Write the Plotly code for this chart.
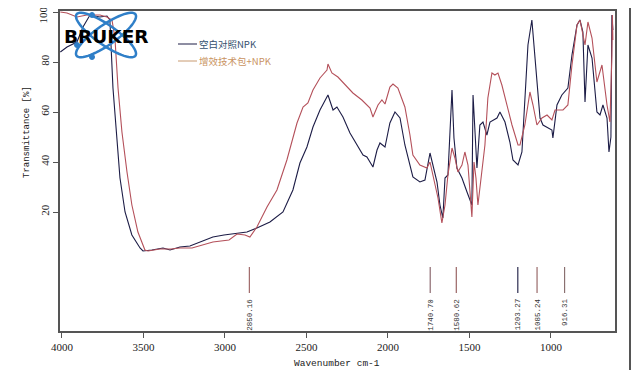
import math
import plotly.graph_objects as go

# ---- data ----
blank_wn = [4010, 3969, 3908, 3871, 3828, 3767, 3724, 3706, 3687, 3663, 3644, 3613, 3571, 3521, 3503,
            3448, 3380, 3337, 3276, 3215, 3153, 3074, 3006, 2865, 2804, 2724, 2644, 2583, 2540, 2497,
            2460, 2417, 2368, 2337, 2313, 2276, 2233, 2190, 2153, 2129, 2092, 2067, 2049, 2018, 1988,
            1957, 1926, 1896, 1865, 1847, 1804, 1773, 1742, 1724, 1699, 1681, 1663, 1650, 1632, 1607,
            1595, 1577, 1546, 1515, 1485, 1478, 1466, 1454, 1436, 1417, 1393, 1374, 1331, 1313, 1282,
            1252, 1233, 1202, 1178, 1160, 1141, 1117, 1098, 1067, 1049, 1024, 994, 988, 963, 933,
            896, 871, 840, 822, 804, 791, 773, 748, 718, 699, 681, 656, 644, 632, 626, 620]
blank_t = [84.0, 86.0, 88.0, 94.0, 98.8, 98.0, 98.4, 96.8, 69.6, 49.6, 33.6, 20.0, 10.8, 5.6, 4.4,
           4.8, 5.6, 4.8, 6.0, 6.4, 8.0, 10.0, 10.8, 12.0, 13.6, 16.0, 20.0, 28.8, 39.6, 46.0,
           54.0, 60.8, 66.8, 60.8, 62.0, 58.0, 51.6, 46.8, 42.8, 42.0, 38.0, 44.8, 47.6, 46.0, 55.6,
           60.0, 57.6, 46.8, 38.8, 34.0, 32.0, 32.8, 43.6, 38.8, 32.0, 22.8, 17.6, 33.6, 34.8, 68.8,
           49.6, 37.6, 33.6, 28.0, 22.8, 66.8, 49.6, 37.6, 54.8, 56.0, 50.8, 56.0, 57.6, 60.0, 56.0,
           48.0, 40.8, 38.8, 44.0, 65.6, 86.8, 96.8, 82.8, 57.6, 54.8, 54.0, 52.8, 49.6, 62.8, 66.8,
           69.6, 82.8, 94.8, 96.8, 92.0, 64.0, 86.8, 81.6, 60.0, 58.8, 62.8, 57.6, 44.0, 50.0, 98.8, 92.8]

treat_wn = [4010, 3969, 3908, 3847, 3767, 3724, 3693, 3675, 3656, 3632, 3601, 3571, 3534, 3491, 3472,
            3399, 3331, 3276, 3202, 3153, 3074, 2975, 2926, 2877, 2847, 2804, 2742, 2681, 2620, 2558,
            2521, 2491, 2460, 2417, 2374, 2368, 2344, 2307, 2252, 2215, 2160, 2110, 2092, 2061, 2037,
            2018, 1988, 1969, 1939, 1896, 1865, 1847, 1804, 1761, 1742, 1724, 1693, 1669, 1650, 1632,
            1607, 1589, 1571, 1546, 1528, 1509, 1485, 1472, 1460, 1448, 1423, 1405, 1387, 1362, 1344,
            1325, 1301, 1270, 1239, 1202, 1190, 1160, 1129, 1110, 1086, 1055, 1024, 994, 975, 926,
            896, 871, 840, 822, 791, 773, 748, 718, 687, 656, 638, 626, 623, 620]
treat_t = [100.0, 99.6, 98.0, 98.8, 98.8, 98.0, 96.8, 89.6, 69.6, 52.0, 36.0, 22.8, 12.0, 4.8, 4.4,
           5.2, 5.2, 5.6, 5.6, 6.4, 8.0, 8.8, 11.2, 10.8, 10.0, 14.0, 22.0, 28.8, 40.8, 55.6,
           62.0, 63.6, 68.8, 73.6, 76.8, 79.2, 75.6, 74.0, 70.0, 67.6, 64.8, 61.6, 58.0, 62.8, 64.8,
           63.2, 70.0, 71.2, 69.6, 62.0, 50.8, 42.8, 38.8, 37.6, 40.0, 34.8, 25.6, 15.6, 22.8, 34.8,
           45.6, 41.6, 36.0, 38.8, 44.0, 38.8, 18.0, 40.0, 33.6, 22.8, 36.0, 46.8, 65.6, 75.6, 74.8,
           75.6, 70.8, 62.8, 54.8, 46.8, 46.8, 54.8, 68.0, 62.8, 54.8, 57.6, 58.8, 56.8, 60.8, 60.8,
           62.8, 78.8, 94.8, 96.8, 86.8, 96.0, 89.6, 72.0, 78.8, 62.8, 56.0, 82.8, 98.8, 88.8]

peak_labels = ["2850.16", "1740.70", "1580.62", "1203.27", "1085.24", "916.31"]
peak_wn = [2850.16, 1740.70, 1580.62, 1203.27, 1085.24, 916.31]
x_ticks = [4000, 3500, 3000, 2500, 2000, 1500, 1000]
y_ticks = [20, 40, 60, 80, 100]
series_names = ["空白对照NPK", "增效技术包+NPK"]

# ---- styling ----
BLUE_LINE = "#1c1c46"
RED_LINE = "#b4505a"
peak_colors = ["#a06a6a", "#8c6a70", "#9a6565", "#2c2c50", "#9a6a6a", "#8a7070"]
TICK_FONT = dict(family="Liberation Serif", size=11, color="#222222")

# The page body has an 8px margin, so the figure is offset by 8px in the window.
OFF = 8
W, H = 640 - OFF, 370 - OFF
# plot area in window pixels: left 60, right 615, top 11, bottom 331
L, R, T, B = 60, 615, 11, 331
def px(xp):
    return (xp - L) / (R - L)
def py(yp):
    return (B - yp) / (B - T)

fig = go.Figure()
fig.add_trace(go.Scatter(x=blank_wn, y=blank_t, mode="lines", name=series_names[0],
                         line=dict(color=BLUE_LINE, width=1.1)))
fig.add_trace(go.Scatter(x=treat_wn, y=treat_t, mode="lines", name=series_names[1],
                         line=dict(color=RED_LINE, width=1.1)))

shapes = []
annotations = []

# peak markers
for wn, lab, c in zip(peak_wn, peak_labels, peak_colors):
    shapes.append(dict(type="line", xref="x", yref="y", x0=wn, x1=wn, y0=-2, y1=-12.4,
                       line=dict(color=c, width=1.2)))
    annotations.append(dict(x=wn, y=-13.8, xref="x", yref="y", text=lab, showarrow=False,
                            textangle=-90, yanchor="top", xanchor="center",
                            font=dict(family="Liberation Mono", size=7.5, color="#333333")))

# legend (manual)
leg = [(44, BLUE_LINE, "#34506e", series_names[0]), (61, "#c89a70", "#c9935f", series_names[1])]
for ypix, lc, tc, name in leg:
    shapes.append(dict(type="line", xref="paper", yref="paper", x0=px(178), x1=px(197),
                       y0=py(ypix), y1=py(ypix), line=dict(color=lc, width=1)))
    annotations.append(dict(x=px(197), y=py(ypix), xref="paper", yref="paper", text=name,
                            showarrow=False, xanchor="left", yanchor="middle",
                            font=dict(family="Noto Sans CJK SC", size=9.5, color=tc)))

# BRUKER logo
cx, cy = 106, 35
for ang in (35, -35):
    a = math.radians(ang)
    pts = []
    for k in range(0, 61):
        t = 2 * math.pi * k / 60
        ex, ey = 36 * math.cos(t), 10 * math.sin(t)
        X = cx + ex * math.cos(a) - ey * math.sin(a)
        Y = cy + ex * math.sin(a) + ey * math.cos(a)
        pts.append((px(X), py(Y)))
    path = "M " + " L ".join(f"{p[0]:.4f},{p[1]:.4f}" for p in pts) + " Z"
    shapes.append(dict(type="path", xref="paper", yref="paper", path=path,
                       line=dict(color="#2f7fc8", width=2.5), layer="above"))
for dx, dy in [(92, 15), (92, 57), (77, 45)]:
    shapes.append(dict(type="circle", xref="paper", yref="paper",
                       x0=px(dx - 2.5), x1=px(dx + 2.5), y0=py(dy + 2.5), y1=py(dy - 2.5),
                       fillcolor="#2f7fc8", line=dict(color="#2f7fc8", width=1), layer="above"))
annotations.append(dict(x=px(106), y=py(36), xref="paper", yref="paper", text="<b>BRUKER</b>",
                        showarrow=False, xanchor="center", yanchor="middle",
                        font=dict(family="DejaVu Sans", size=18.5, color="#000000")))

# y tick label "100" (placed as annotation so it stays inside the page)
annotations.append(dict(x=px(43), y=py(15.5), xref="paper", yref="paper", text=str(y_ticks[-1]),
                        showarrow=False, textangle=-90, xanchor="center", yanchor="middle",
                        font=TICK_FONT))

# y-axis title
annotations.append(dict(x=px(27), y=py(132), xref="paper", yref="paper", text="Transmittance [%]",
                        showarrow=False, textangle=-90, xanchor="center", yanchor="middle",
                        font=dict(family="Liberation Mono", size=9, color="#222222")))

# x-axis title
annotations.append(dict(x=px(337), y=py(363), xref="paper", yref="paper", text="Wavenumber cm-1",
                        showarrow=False, xanchor="center", yanchor="middle",
                        font=dict(family="Liberation Mono", size=9.5, color="#222222")))

# right image border line
shapes.append(dict(type="line", xref="paper", yref="paper", x0=px(630), x1=px(630),
                   y0=py(370), y1=py(OFF), line=dict(color="#555555", width=2)))

fig.update_layout(
    width=W, height=H, autosize=False,
    margin=dict(l=L - OFF, r=640 - R, t=T - OFF, b=370 - B, pad=0, autoexpand=False),
    paper_bgcolor="white", plot_bgcolor="white",
    showlegend=False,
    shapes=shapes, annotations=annotations,
    xaxis=dict(range=[4012, 607], tickvals=x_ticks, ticktext=[str(v) for v in x_ticks],
               automargin=False,
               showgrid=False, zeroline=False, showline=True, mirror=True,
               linecolor="#555555", linewidth=1.5, ticks="outside", ticklen=5,
               tickcolor="#555555", tickfont=TICK_FONT),
    yaxis=dict(range=[-27.6, 100.4], tickvals=y_ticks,
               ticktext=[str(v) if v != y_ticks[-1] else "" for v in y_ticks],
               automargin=False,
               showgrid=False, zeroline=False, showline=True, mirror=True,
               linecolor="#555555", linewidth=1.5, ticks="outside", ticklen=5,
               tickcolor="#555555", tickangle=-90, tickfont=TICK_FONT),
)

fig.write_html("out.html")
